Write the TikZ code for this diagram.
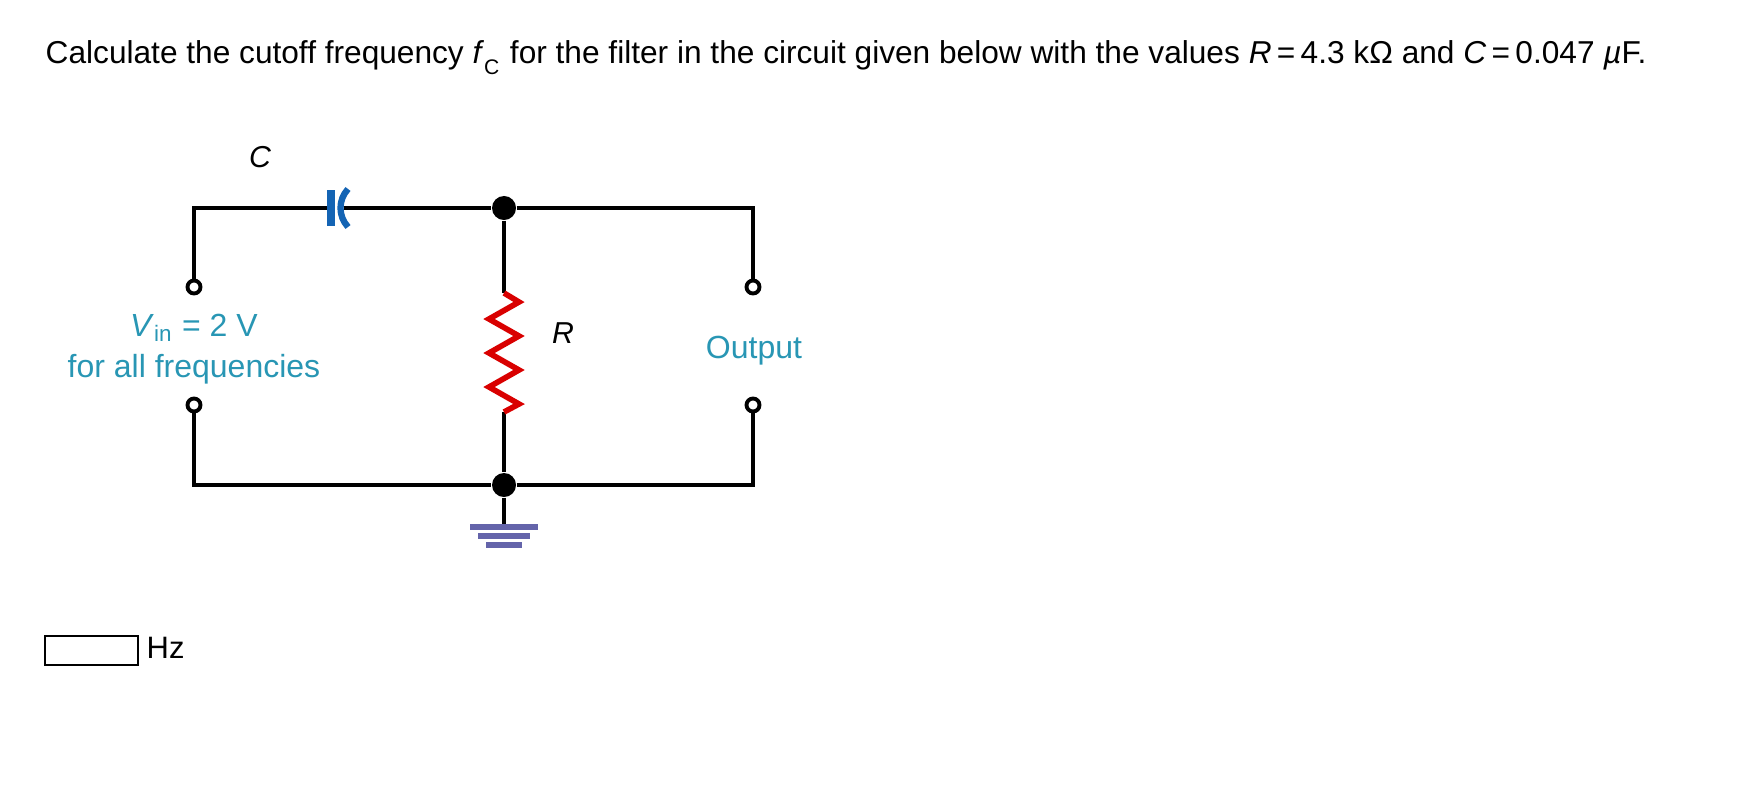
\documentclass[tikz,border=0pt]{standalone}
\usepackage{fontspec}
\setmainfont{Liberation Sans}
\definecolor{teal1}{RGB}{40,150,180}
\definecolor{capblue}{RGB}{20,100,180}
\definecolor{gndblue}{RGB}{100,100,170}
\begin{document}
\begin{tikzpicture}[x=0.01cm,y=-0.01cm,
  wire/.style={line width=1.4pt,black},
  term/.style={circle,draw,line width=1.1pt,inner sep=0pt,minimum size=0.13cm,fill=white},
  dot/.style={circle,fill=black,inner sep=0pt,minimum size=0.24cm},
  lbl/.style={text=teal1,font=\fontsize{9.1}{11.5}\selectfont,align=center},
  sym/.style={font=\fontsize{8.6}{9}\selectfont\itshape}]
\useasboundingbox (0,0) rectangle (1746,800);
\node[anchor=base west,inner sep=0pt,font=\fontsize{9}{10}\selectfont] (q) at (45,64)
  {Calculate the cutoff frequency \textit{f}\textsubscript{\raisebox{-0.6ex}{C}} for the filter in the circuit given below with the values \textit{R}\,=\,4.3 kΩ and \textit{C}\,=\,0.047 \textit{µ}F.};
% nodes
\coordinate (tl) at (194,208);
\coordinate (tr) at (753,208);
\node[dot] (jt) at (504,208) {};
\node[dot] (jb) at (504,485) {};
\coordinate (bl) at (194,485);
\coordinate (br) at (753,485);
\node[term] (i1) at (194,287) {};
\node[term] (i2) at (194,405) {};
\node[term] (o1) at (753,287) {};
\node[term] (o2) at (753,405) {};
\coordinate (c1) at (330,208);
\coordinate (c2) at (344,208);
\coordinate (r1) at (504,293);
\coordinate (r2) at (504,412);
\coordinate (g) at (504,526);
% wires
\draw[wire] (i1) -- (tl) -- (c1);
\draw[wire] (c2) -- (jt) -- (tr) -- (o1);
\draw[wire] (jt) -- (r1);
\draw[wire] (r2) -- (jb);
\draw[wire] (i2) -- (bl) -- (jb) -- (br) -- (o2);
\draw[wire] (jb) -- (g);
% capacitor
\draw[line width=2.2pt,capblue] (331,190) -- (331,226);
\draw[line width=1.8pt,capblue] (348,189) .. controls (338,200) and (338,216) .. (348,227);
% resistor
\draw[line width=1.6pt,red!85!black] (r1) -- (519,302) -- (489,319) -- (519,336) -- (489,353) -- (519,370) -- (489,387) -- (519,404) -- (r2);
% ground
\fill[gndblue] (470,524) rectangle (538,530);
\fill[gndblue] (478,533) rectangle (530,539);
\fill[gndblue] (486,542) rectangle (522,548);
% labels
\node[sym] (lc) at (260,157) {C};
\node[sym] (lr) at (563,333) {R};
\node[lbl] (lv) at (194,349) {\textit{V}\textsubscript{in} = 2 V\\for all frequencies};
\node[lbl] (lo) at (754,351) {Output};
% answer
\draw[line width=0.8pt] (45,636) rectangle (138,665);
\node[anchor=west,inner sep=0pt,font=\fontsize{8.8}{10}\selectfont] (hz) at (146,648) {Hz};
\end{tikzpicture}
\end{document}
